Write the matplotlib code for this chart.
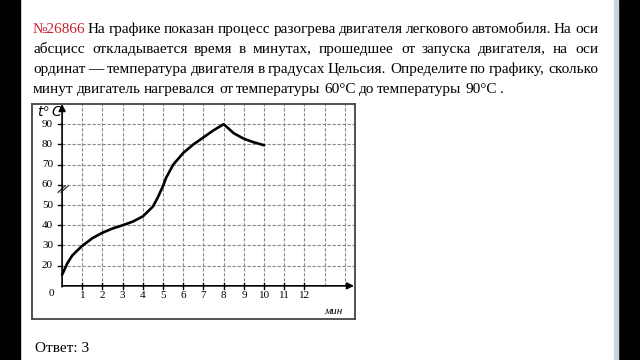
import matplotlib
matplotlib.use("Agg")
import matplotlib.pyplot as plt
from matplotlib.patches import Rectangle

# данные (мин, °C)
minutes = [0, 0.25, 0.5, 0.75, 1, 1.5, 2, 2.5, 3, 3.5, 4, 4.5, 4.75, 5,
           5.15, 5.5, 6, 6.5, 7, 7.5, 8, 8.5, 9, 9.5, 10]
temps = [15.5, 21, 25, 27.5, 29.8, 33.6, 36.3, 38.4, 40, 41.8, 44.4, 49.3,
         54, 59.5, 63.5, 70, 75.8, 80, 83.5, 87, 90, 85.5, 82.8, 81, 79.6]

x_ticks = list(range(1, 13))
x_grid = list(range(1, 15))
y_ticks = [20, 30, 40, 50, 60, 70, 80, 90]

task_no = "№26866"
task_lines = [
    "На графике показан процесс разогрева двигателя легкового автомобиля. На оси",
    "абсцисс откладывается время в минутах, прошедшее от запуска двигателя, на оси",
    "ординат — температура двигателя в градусах Цельсия. Определите по графику, сколько",
    "минут двигатель нагревался от температуры 60°C до температуры 90°C .",
]
answer = "Ответ: 3"

W, H = 640, 360
SERIF = ["Liberation Serif", "DejaVu Serif"]

fig = plt.figure(figsize=(W / 100, H / 100), dpi=100)
fig.patch.set_facecolor("white")

# чёрные поля по краям слайда
fig.patches.append(Rectangle((0, 0), 20 / W, 1, transform=fig.transFigure,
                             color="black", zorder=0))
fig.patches.append(Rectangle((618 / W, 0), 22 / W, 1, transform=fig.transFigure,
                             color="black", zorder=0))
fig.patches.append(Rectangle((614 / W, 0), 4 / W, 1, transform=fig.transFigure,
                             color="#c9d3dc", zorder=0))


def put_line(words, colors, y, x0, x1, justify, size=11):
    r = fig.canvas.get_renderer()
    texts = [fig.text(0, 1 - y / H, w, color=c, family=SERIF, fontsize=size,
                      va="baseline", ha="left") for w, c in zip(words, colors)]
    widths = [t.get_window_extent(r).width for t in texts]
    if justify and len(words) > 1:
        gap = (x1 - x0 - sum(widths)) / (len(words) - 1)
    else:
        gap = size * 0.3
    x = x0
    for t, w in zip(texts, widths):
        t.set_x(round(x) / W)
        x += w + gap


# текст задачи
for i, line in enumerate(task_lines):
    words = line.split()
    colors = ["black"] * len(words)
    if i == 0:
        words = [task_no] + words
        colors = ["#c81e2e"] + colors
    put_line(words, colors, 33 + i * 20, 33, 598, i < 3)

fig.text(35 / W, 1 - 352 / H, answer, family=SERIF, fontsize=11,
         va="baseline", ha="left")

# область графика (рамка)
ax = fig.add_axes([32 / W, 1 - 319 / H, 323 / W, 215 / H])
ax.set_xlim(-1.49, 14.5)
ax.set_ylim(-6.4, 100)
ax.set_xticks([])
ax.set_yticks([])
for s in ax.spines.values():
    s.set_color("#444444")
    s.set_linewidth(1.3)

# сетка
for gx in x_grid:
    ax.plot([gx, gx], [10, 100], color="#8a8a8a", lw=0.8, ls=(0, (3, 1.5)),
            zorder=1)
for gy in y_ticks:
    ax.plot([0, 14.5], [gy, gy], color="#8a8a8a", lw=0.8, ls=(0, (3, 1.5)),
            zorder=1)

# оси со стрелками
ax.annotate("", xy=(14.45, 10), xytext=(0, 10),
            arrowprops=dict(arrowstyle="-|>", color="black", lw=1.2,
                            mutation_scale=10, shrinkA=0, shrinkB=0))
ax.annotate("", xy=(0, 100), xytext=(0, 9.5),
            arrowprops=dict(arrowstyle="-|>", color="black", lw=1.2,
                            mutation_scale=10, shrinkA=0, shrinkB=0))

# засечки и подписи
for tx in x_ticks:
    ax.plot([tx, tx], [8.5, 11.5], color="black", lw=1, zorder=3)
    ax.text(tx, 5.3, str(tx), ha="center", va="center", family=SERIF,
            fontsize=8)
for ty in y_ticks:
    ax.plot([-0.18, 0], [ty, ty], color="black", lw=1, zorder=3)
    ax.text(-0.45, ty, str(ty), ha="right", va="center", family=SERIF,
            fontsize=8)
ax.text(-0.4, 6.3, "0", ha="right", va="center", family=SERIF, fontsize=8)

# знак разрыва оси
ax.plot([-0.2, 0.15], [56.3, 59.5], color="#333333", lw=0.9)
ax.plot([-0.05, 0.3], [56.3, 59.5], color="#333333", lw=0.9)

ax.text(-1.25, 96, "$t$° $C$", ha="left", va="center", family=SERIF,
        fontsize=10, style="italic")
ax.text(13.9, -2.5, "мин", ha="right", va="center", family=SERIF,
        fontsize=8, style="italic")

# кривая нагрева
ax.plot(minutes, temps, color="black", lw=1.9, solid_capstyle="round",
        solid_joinstyle="round", zorder=4)

fig.savefig("out.png", dpi=100)
